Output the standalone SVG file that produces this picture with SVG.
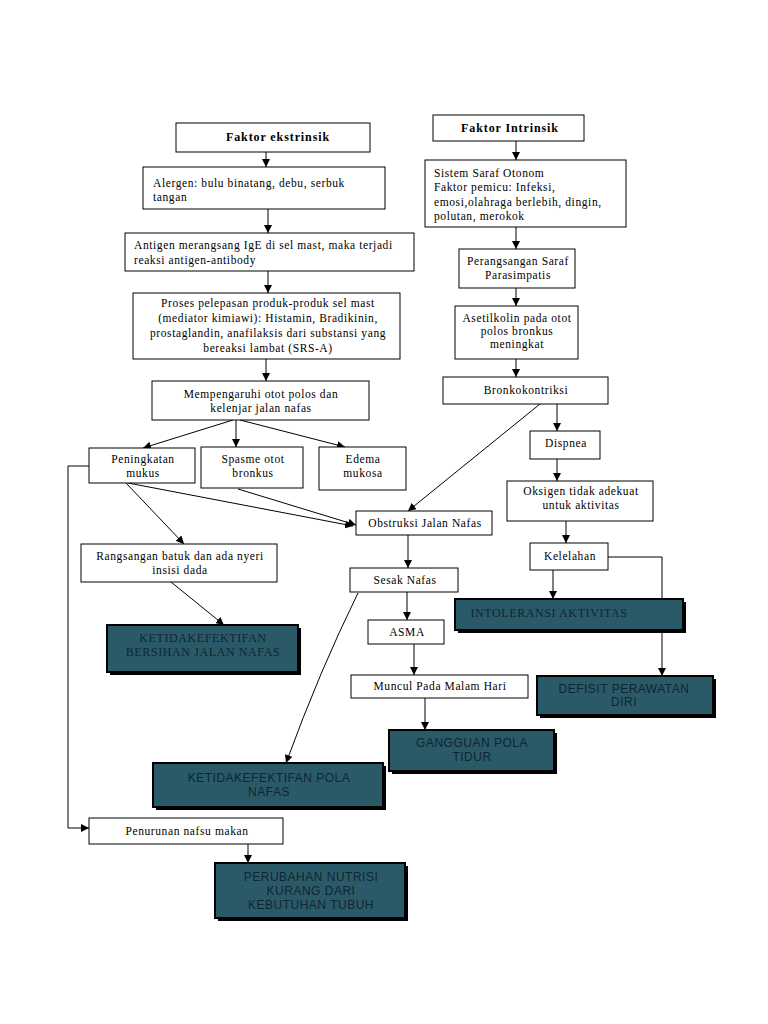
<svg xmlns="http://www.w3.org/2000/svg" width="768" height="1024" viewBox="0 0 768 1024">
<defs>
<marker id="ah" viewBox="0 0 10 10" refX="10" refY="5" markerWidth="8" markerHeight="8" markerUnits="userSpaceOnUse" orient="auto">
<path d="M0,0 L10,5 L0,10 z" fill="#000"/>
</marker>
<style>
.b{fill:#fff;stroke:#000;stroke-width:1}
.t{font-family:"Liberation Serif","Times New Roman",serif;font-size:11.5px;fill:#000;letter-spacing:0.6px}
.c{text-anchor:middle}
.bold{font-weight:bold;font-size:12px;letter-spacing:0.9px}
.d{fill:#2a5a68;stroke:#000;stroke-width:2}
.sh{fill:#000}
.dt{font-family:"Liberation Sans",Arial,sans-serif;font-size:12px;fill:#0f2630;text-anchor:middle;letter-spacing:0.5px}
.ds{font-family:"Liberation Serif","Times New Roman",serif;font-size:12px;fill:#0f2630;text-anchor:middle;letter-spacing:0.6px}
.ln{fill:none;stroke:#000;stroke-width:1}
</style>
</defs>
<rect width="768" height="1024" fill="#fff"/>

<g id="connectors">
<path class="ln" d="M266,152 V167" marker-end="url(#ah)"/>
<path class="ln" d="M268,209 V233" marker-end="url(#ah)"/>
<path class="ln" d="M268,271 V293" marker-end="url(#ah)"/>
<path class="ln" d="M266,359 V381" marker-end="url(#ah)"/>
<path class="ln" d="M233,420 L143,448" marker-end="url(#ah)"/>
<path class="ln" d="M236,420 V447" marker-end="url(#ah)"/>
<path class="ln" d="M240,420 L345,447" marker-end="url(#ah)"/>
<path class="ln" d="M126,483 L184,544" marker-end="url(#ah)"/>
<path class="ln" d="M128,483 L353,526" marker-end="url(#ah)"/>
<path class="ln" d="M238,489 L356,525" marker-end="url(#ah)"/>
<path class="ln" d="M171,582 L224,625" marker-end="url(#ah)"/>
<path class="ln" d="M89,466 H68 V828 H89" marker-end="url(#ah)"/>
<path class="ln" d="M248,844 V863" marker-end="url(#ah)"/>
<path class="ln" d="M516,141 V160" marker-end="url(#ah)"/>
<path class="ln" d="M516,227 V249" marker-end="url(#ah)"/>
<path class="ln" d="M516,288 V306" marker-end="url(#ah)"/>
<path class="ln" d="M516,359 V377" marker-end="url(#ah)"/>
<path class="ln" d="M540,404 L408,511" marker-end="url(#ah)"/>
<path class="ln" d="M557,404 V431" marker-end="url(#ah)"/>
<path class="ln" d="M557,459 V481" marker-end="url(#ah)"/>
<path class="ln" d="M566,521 V543" marker-end="url(#ah)"/>
<path class="ln" d="M553,570 V599" marker-end="url(#ah)"/>
<path class="ln" d="M608,557 H662 V676" marker-end="url(#ah)"/>
<path class="ln" d="M408,535 V568" marker-end="url(#ah)"/>
<path class="ln" d="M407,592 V620" marker-end="url(#ah)"/>
<path class="ln" d="M414,644 V675" marker-end="url(#ah)"/>
<path class="ln" d="M425,698 V730" marker-end="url(#ah)"/>
<path class="ln" d="M358,593 Q320,670 286,763" marker-end="url(#ah)"/>
</g>

<g id="faktor-ekstrinsik">
<rect class="b" x="176" y="123" width="194" height="29"/>
<text class="t c bold" x="278" y="141">Faktor ekstrinsik</text>
</g>
<g id="alergen">
<rect class="b" x="143" y="167" width="242" height="42"/>
<text class="t" x="153" y="187">Alergen: bulu binatang, debu, serbuk</text>
<text class="t" x="153" y="201">tangan</text>
</g>
<g id="antigen">
<rect class="b" x="125" y="233" width="289" height="38"/>
<text class="t" x="134" y="249">Antigen merangsang IgE di sel mast, maka terjadi</text>
<text class="t" x="134" y="264">reaksi antigen-antibody</text>
</g>
<g id="proses">
<rect class="b" x="133" y="293" width="267" height="66"/>
<text class="t c" x="268" y="307">Proses pelepasan produk-produk sel mast</text>
<text class="t c" x="268" y="322">(mediator kimiawi): Histamin, Bradikinin,</text>
<text class="t c" x="268" y="337">prostaglandin,  anafilaksis dari substansi yang</text>
<text class="t c" x="268" y="352">bereaksi lambat (SRS-A)</text>
</g>
<g id="mempengaruhi">
<rect class="b" x="152" y="381" width="217" height="39"/>
<text class="t c" x="261" y="398">Mempengaruhi otot polos dan</text>
<text class="t c" x="261" y="412">kelenjar jalan nafas</text>
</g>
<g id="peningkatan-mukus">
<rect class="b" x="89" y="448" width="106" height="35"/>
<text class="t c" x="143" y="463">Peningkatan</text>
<text class="t c" x="143" y="477">mukus</text>
</g>
<g id="spasme">
<rect class="b" x="201" y="447" width="102" height="41"/>
<text class="t c" x="253" y="463">Spasme otot</text>
<text class="t c" x="253" y="477">bronkus</text>
</g>
<g id="edema">
<rect class="b" x="319" y="447" width="87" height="43"/>
<text class="t c" x="363" y="463">Edema</text>
<text class="t c" x="363" y="477">mukosa</text>
</g>
<g id="rangsangan">
<rect class="b" x="81" y="544" width="196" height="38"/>
<text class="t c" x="180" y="560">Rangsangan batuk dan ada nyeri</text>
<text class="t c" x="180" y="574">insisi dada</text>
</g>
<g id="obstruksi">
<rect class="b" x="356" y="511" width="136" height="24"/>
<text class="t c" x="425" y="527">Obstruksi Jalan Nafas</text>
</g>
<g id="sesak">
<rect class="b" x="350" y="568" width="108" height="24"/>
<text class="t c" x="405" y="584">Sesak Nafas</text>
</g>
<g id="asma">
<rect class="b" x="368" y="620" width="76" height="24"/>
<text class="t c" x="407" y="636">ASMA</text>
</g>
<g id="muncul">
<rect class="b" x="351" y="675" width="177" height="23"/>
<text class="t c" x="440" y="690">Muncul Pada Malam Hari</text>
</g>
<g id="penurunan">
<rect class="b" x="89" y="818" width="194" height="26"/>
<text class="t c" x="187" y="835">Penurunan nafsu makan</text>
</g>
<g id="faktor-intrinsik">
<rect class="b" x="433" y="115" width="151" height="26"/>
<text class="t c bold" x="510" y="132">Faktor Intrinsik</text>
</g>
<g id="sistem-saraf">
<rect class="b" x="425" y="160" width="201" height="67"/>
<text class="t" x="434" y="177">Sistem Saraf Otonom</text>
<text class="t" x="434" y="191">Faktor pemicu: Infeksi,</text>
<text class="t" x="434" y="206">emosi,olahraga berlebih, dingin,</text>
<text class="t" x="434" y="220">polutan, merokok</text>
</g>
<g id="perangsangan">
<rect class="b" x="459" y="249" width="116" height="39"/>
<text class="t c" x="518" y="265">Perangsangan Saraf</text>
<text class="t c" x="518" y="279">Parasimpatis</text>
</g>
<g id="asetilkolin">
<rect class="b" x="455" y="306" width="123" height="53"/>
<text class="t c" x="517" y="322">Asetilkolin pada otot</text>
<text class="t c" x="517" y="335">polos bronkus</text>
<text class="t c" x="517" y="348">meningkat</text>
</g>
<g id="bronkokontriksi">
<rect class="b" x="443" y="377" width="165" height="27"/>
<text class="t c" x="526" y="394">Bronkokontriksi</text>
</g>
<g id="dispnea">
<rect class="b" x="530" y="431" width="70" height="28"/>
<text class="t c" x="566" y="447">Dispnea</text>
</g>
<g id="oksigen">
<rect class="b" x="507" y="481" width="146" height="40"/>
<text class="t c" x="581" y="495">Oksigen tidak adekuat</text>
<text class="t c" x="581" y="509">untuk aktivitas</text>
</g>
<g id="kelelahan">
<rect class="b" x="530" y="543" width="78" height="27"/>
<text class="t c" x="570" y="560">Kelelahan</text>
</g>

<g id="dx-bersihan">
<rect class="sh" x="110" y="628" width="191" height="47"/>
<rect class="d" x="107" y="625" width="191" height="47"/>
<text class="ds" x="203" y="642">KETIDAKEFEKTIFAN</text>
<text class="ds" x="203" y="656">BERSIHAN JALAN NAFAS</text>
</g>
<g id="dx-intoleransi">
<rect class="sh" x="458" y="602" width="228" height="31"/>
<rect class="d" x="455" y="599" width="228" height="31"/>
<text class="ds" x="549" y="617">INTOLERANSI AKTIVITAS</text>
</g>
<g id="dx-defisit">
<rect class="sh" x="540" y="679" width="176" height="39"/>
<rect class="d" x="537" y="676" width="176" height="39"/>
<text class="dt" x="624" y="693">DEFISIT PERAWATAN</text>
<text class="dt" x="624" y="706">DIRI</text>
</g>
<g id="dx-tidur">
<rect class="sh" x="392" y="733" width="165" height="41"/>
<rect class="d" x="389" y="730" width="165" height="41"/>
<text class="dt" x="472" y="747">GANGGUAN POLA</text>
<text class="dt" x="472" y="761">TIDUR</text>
</g>
<g id="dx-pola-nafas">
<rect class="sh" x="156" y="766" width="230" height="44"/>
<rect class="d" x="153" y="763" width="230" height="44"/>
<text class="dt" x="269" y="782">KETIDAKEFEKTIFAN POLA</text>
<text class="dt" x="269" y="796">NAFAS</text>
</g>
<g id="dx-nutrisi">
<rect class="sh" x="218" y="866" width="190" height="55"/>
<rect class="d" x="215" y="863" width="190" height="55"/>
<text class="dt" x="311" y="881">PERUBAHAN NUTRISI</text>
<text class="dt" x="311" y="895">KURANG DARI</text>
<text class="dt" x="311" y="909">KEBUTUHAN TUBUH</text>
</g>
</svg>
